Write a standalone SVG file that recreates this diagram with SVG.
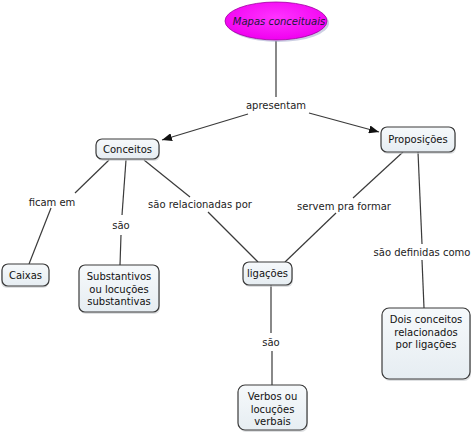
<svg xmlns="http://www.w3.org/2000/svg" width="474" height="433" viewBox="0 0 474 433">
<style>
.bg{fill:#ffffff}
.node{fill:url(#nodeFill);stroke:#3a3a3a;stroke-width:1.2}
.shadow{fill:#c8cccf;opacity:0.6}
.lbl{font-family:"DejaVu Sans",Verdana,sans-serif;font-size:10px;fill:#222;text-anchor:middle}
.ntx{font-family:"DejaVu Sans",Verdana,sans-serif;font-size:10px;fill:#111;text-anchor:middle}
.ln{stroke:#3a3a3a;stroke-width:1.2;fill:none}
</style>
<defs>
<linearGradient id="nodeFill" x1="0" y1="0" x2="0" y2="1">
<stop offset="0" stop-color="#f6f9fb"/>
<stop offset="1" stop-color="#e6edf2"/>
</linearGradient>
<radialGradient id="ellFill" cx="0.5" cy="0.4" r="0.6">
<stop offset="0" stop-color="#ff33ff"/>
<stop offset="1" stop-color="#f000f0"/>
</radialGradient>
<marker id="arr" viewBox="0 0 10 8" refX="10" refY="4" markerWidth="10" markerHeight="8" markerUnits="userSpaceOnUse" orient="auto">
<path d="M0,0 L10,4 L0,8 z" fill="#111"/>
</marker>
</defs>
<rect class="bg" x="0" y="0" width="474" height="433"/>
<g id="connectors">
<line class="ln" x1="276" y1="41" x2="276" y2="97"/>
<line class="ln" x1="248" y1="114" x2="162" y2="140" marker-end="url(#arr)"/>
<line class="ln" x1="309" y1="113" x2="379" y2="132" marker-end="url(#arr)"/>
<line class="ln" x1="109" y1="160" x2="75" y2="193"/>
<line class="ln" x1="51" y1="208" x2="29" y2="264"/>
<line class="ln" x1="126" y1="160" x2="122" y2="215"/>
<line class="ln" x1="121" y1="235" x2="120" y2="265"/>
<line class="ln" x1="144" y1="160" x2="190" y2="197"/>
<line class="ln" x1="208" y1="212" x2="258" y2="262"/>
<line class="ln" x1="403" y1="152" x2="353" y2="198"/>
<line class="ln" x1="336" y1="213" x2="285" y2="262"/>
<line class="ln" x1="418" y1="152" x2="422" y2="244"/>
<line class="ln" x1="422" y1="260" x2="424" y2="308"/>
<line class="ln" x1="271" y1="285" x2="271" y2="333"/>
<line class="ln" x1="272" y1="351" x2="272" y2="385"/>
<text class="lbl" x="276" y="109">apresentam</text>
<text class="lbl" x="52" y="206">ficam em</text>
<text class="lbl" x="121" y="229">são</text>
<text class="lbl" x="200" y="208">são relacionadas por</text>
<text class="lbl" x="344" y="210">servem pra formar</text>
<text class="lbl" x="422" y="256">são definidas como</text>
<text class="lbl" x="271" y="346">são</text>
</g>
<g id="mapas">
<ellipse cx="278" cy="23" rx="51" ry="19" fill="#9aa0c8" opacity="0.5"/>
<ellipse cx="276" cy="21" rx="51" ry="19" fill="url(#ellFill)" stroke="#a000a0" stroke-width="0.8"/>
<text x="279" y="25" font-family="'Comic Sans MS','DejaVu Sans',sans-serif" font-style="italic" font-size="10px" fill="#1a1a3a" text-anchor="middle">Mapas conceituais</text>
</g>
<g id="conceitos">
<rect class="shadow" x="97" y="141" width="63" height="20" rx="6"/>
<rect class="node" x="96" y="139" width="63" height="20" rx="6"/>
<text class="ntx" x="127.5" y="153">Conceitos</text>
</g>
<g id="proposicoes">
<rect class="shadow" x="382" y="129" width="74" height="25" rx="6"/>
<rect class="node" x="381" y="127" width="74" height="25" rx="6"/>
<text class="ntx" x="418" y="143">Proposições</text>
</g>
<g id="caixas">
<rect class="shadow" x="1" y="266" width="48" height="22" rx="6"/>
<rect class="node" x="2" y="264" width="47" height="22" rx="6"/>
<text class="ntx" x="25.5" y="279">Caixas</text>
</g>
<g id="substantivos">
<rect class="shadow" x="80" y="267" width="80" height="47" rx="6"/>
<rect class="node" x="79" y="265" width="80" height="47" rx="6"/>
<text class="ntx" x="119" y="280">Substantivos</text>
<text class="ntx" x="119" y="292.5">ou locuções</text>
<text class="ntx" x="119" y="305">substantivas</text>
</g>
<g id="ligacoes">
<rect class="shadow" x="244" y="264" width="49" height="23" rx="6"/>
<rect class="node" x="243" y="262" width="49" height="23" rx="6"/>
<text class="ntx" x="267.5" y="277">ligações</text>
</g>
<g id="dois">
<rect class="shadow" x="383" y="310" width="88" height="71" rx="7"/>
<rect class="node" x="382" y="308" width="88" height="71" rx="7"/>
<text class="ntx" x="426" y="323">Dois conceitos</text>
<text class="ntx" x="426" y="335.5">relacionados</text>
<text class="ntx" x="426" y="348">por ligações</text>
</g>
<g id="verbos">
<rect class="shadow" x="239" y="387" width="69" height="45" rx="7"/>
<rect class="node" x="238" y="385" width="69" height="45" rx="7"/>
<text class="ntx" x="272.5" y="400">Verbos ou</text>
<text class="ntx" x="272.5" y="412.5">locuções</text>
<text class="ntx" x="272.5" y="425">verbais</text>
</g>
</svg>
